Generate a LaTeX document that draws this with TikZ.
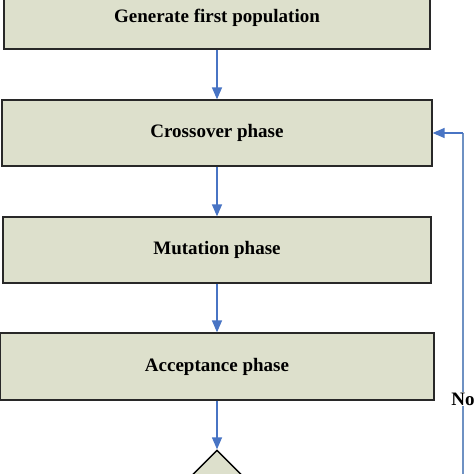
\documentclass[tikz,border=0pt]{standalone}
\usepackage{fontspec}
\setmainfont{Liberation Serif}
\usetikzlibrary{arrows.meta,shapes.geometric}
\definecolor{boxfill}{RGB}{221,224,204}
\definecolor{boxline}{RGB}{40,40,40}
\definecolor{arrowblue}{RGB}{72,116,196}
\definecolor{loopblue}{RGB}{110,145,195}
\tikzset{
  phasebox/.style={draw=boxline, line width=1.3pt, fill=boxfill, minimum height=66pt,
    inner sep=0pt, font=\fontsize{19}{22}\selectfont\bfseries},
  flow/.style={draw=arrowblue, line width=1.4pt, -{Triangle[width=10pt,length=12pt]}},
  decision/.style={diamond, draw=black, line width=1.4pt, fill=boxfill, aspect=1,
    minimum width=140pt, minimum height=140pt, inner sep=0pt},
}
\begin{document}
\begin{tikzpicture}[x=1pt,y=-1pt]
\useasboundingbox (0,0) rectangle (474,474);
\clip (0,0) rectangle (474,474);
\fill[white] (0,0) rectangle (474,474);
\node[phasebox, minimum width=426pt, text height=17pt, text depth=4pt] (gen) at (217,16) {Generate first population};
\node[phasebox, minimum width=430pt] (cross) at (217,133) {Crossover phase};
\node[phasebox, minimum width=428pt] (mut) at (217,250) {Mutation phase};
\node[phasebox, minimum width=434pt, minimum height=67pt] (acc) at (217,366.5) {Acceptance phase};
\node[decision] (dec) at (217,520) {};
\coordinate (corner) at (463,520);
\coordinate (top) at (463,133);
\draw[flow] (gen.south) -- (cross.north);
\draw[flow] (cross.south) -- (mut.north);
\draw[flow] (mut.south) -- (acc.north);
\draw[flow] (acc.south) -- (dec.north);
\draw[draw=loopblue, line width=1.2pt] (dec.east) -- (corner) -- (top);
\draw[flow] (top) -- (cross.east);
\node[fill=white, inner sep=1pt, font=\fontsize{19}{22}\selectfont\bfseries] (no) at (463,399) {No};
\end{tikzpicture}
\end{document}
